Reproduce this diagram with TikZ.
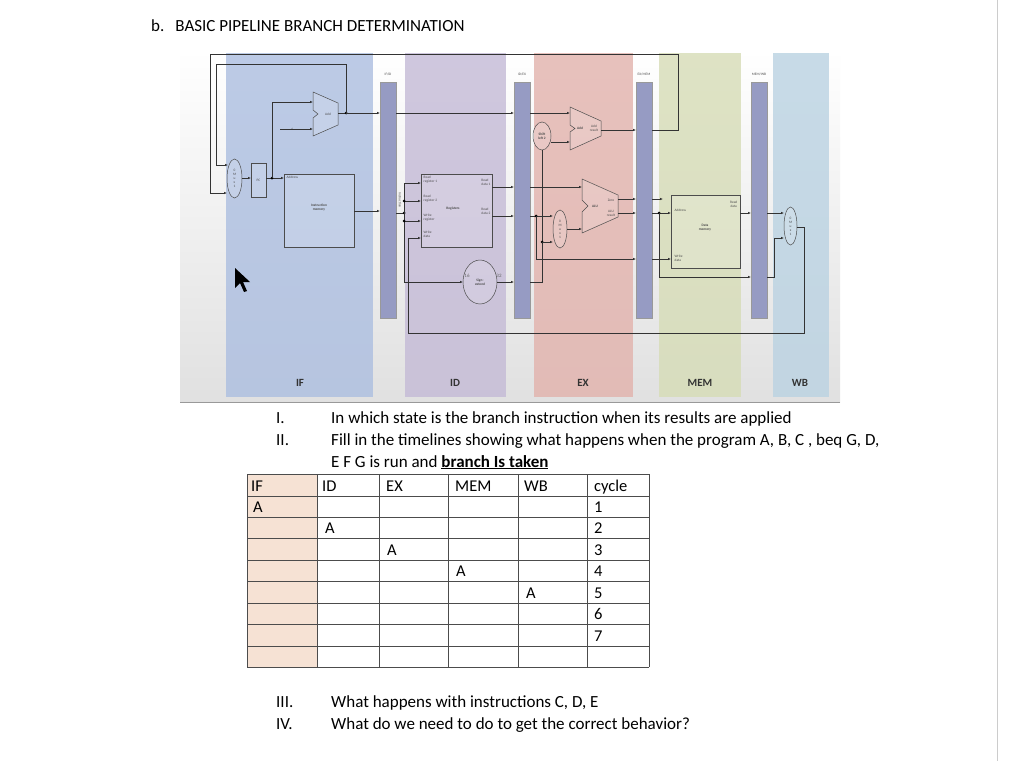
\documentclass[tikz,border=0pt]{standalone}
\usepackage{fontspec}
\setmainfont{Carlito}
\usetikzlibrary{arrows.meta,shapes.geometric}
\definecolor{bIF}{RGB}{172,190,224}
\definecolor{bID}{RGB}{196,186,214}
\definecolor{bEX}{RGB}{226,178,172}
\definecolor{bMEM}{RGB}{214,220,182}
\definecolor{bWB}{RGB}{186,210,226}
\definecolor{preg}{RGB}{150,155,195}
\definecolor{peach}{RGB}{246,226,212}
\begin{document}
\begin{tikzpicture}[x=1pt,y=-1pt,
  w/.style={draw=black!80,line width=0.6pt},
  a/.style={w,-{Latex[length=3pt,width=2.5pt]}},
  comp/.style={draw=black!70,fill=white,fill opacity=0.15,text opacity=1,line width=0.5pt},
  tiny/.style={font=\fontsize{3.5}{4}\selectfont,text=black!70,align=center,inner sep=0.5pt},
  lbl/.style={font=\fontsize{11}{12}\selectfont\bfseries,text=black!80},
  txt/.style={font=\fontsize{17}{19}\selectfont,anchor=base west,inner sep=0},
  cell/.style={font=\fontsize{16.5}{18}\selectfont,anchor=base west,inner sep=0},
  dot/.style={circle,fill=black,inner sep=0,minimum size=3pt}]
\useasboundingbox (0,0) rectangle (1024,761);
\fill[white] (0,0) rectangle (1024,761);
\draw[black!20,line width=1pt] (997,0) -- (997,761);
\node[txt,font=\fontsize{17}{19}\selectfont] (title) at (151,31) {b.\hspace{11pt}BASIC PIPELINE BRANCH DETERMINATION};
% image background
\shade[top color=white,bottom color=black!12] (180,50) rectangle (840,402);
\draw[black!40,line width=1pt] (180,402) -- (840,402);
% bands
\fill[bIF,opacity=0.8] (226,53) rectangle (373,397);
\fill[bID,opacity=0.8] (405,53) rectangle (506,397);
\fill[bEX,opacity=0.8] (534,53) rectangle (633,397);
\fill[bMEM,opacity=0.8] (659,53) rectangle (741,397);
\fill[bWB,opacity=0.8] (773,53) rectangle (829,397);
\node[lbl] (lIF) at (300,383) {IF};
\node[lbl] (lID) at (455,383) {ID};
\node[lbl] (lEX) at (583,383) {EX};
\node[lbl] (lMEM) at (700,383) {MEM};
\node[lbl] (lWB) at (800,383) {WB};
% pipeline registers
\foreach \x/\t in {380/{IF/ID},514/{ID/EX},636/{EX/MEM},751/{MEM/WB}}{
  \fill[preg,draw=black!40] (\x,82) rectangle ++(16,236);
  \node[tiny] at (\x+8,74) {\t};}
% components
\draw[comp] (313,92) -- (338,103) -- (338,125) -- (313,136) -- (313,118) -- (318,114) -- (313,110) -- cycle;
\node[tiny] (addif) at (328,114) {Add};
\node[tiny] (four) at (292,129) {4};
\node[comp,ellipse,minimum width=15pt,minimum height=39pt,inner sep=0] (mux1) at (234.5,178.5) {};
\node[tiny] at (234.5,178.5) {0\\M\\u\\x\\1};
\node[comp,rectangle,minimum width=15pt,minimum height=34pt,inner sep=0] (pc) at (258.5,180) {};
\node[tiny] at (258.5,180) {PC};
\draw[comp] (284,174) rectangle (354,247);
\node[tiny,anchor=north west] at (286,175) {Address};
\node[tiny] (imem) at (319,208) {\bfseries Instruction\\\bfseries memory};
\node[tiny,rotate=-90] at (400,200) {Instruction};
\draw[comp] (421,174) rectangle (492,247);
\node[tiny,anchor=north west,align=left] at (423,175) {Read\\register 1};
\node[tiny,anchor=north west,align=left] at (423,194) {Read\\register 2};
\node[tiny,anchor=north west,align=left] at (423,213) {Write\\register};
\node[tiny,anchor=north west,align=left] at (423,230) {Write\\data};
\node[tiny,anchor=north east,align=left] at (491,178) {Read\\data 1};
\node[tiny,anchor=north east,align=left] at (491,207) {Read\\data 2};
\node[tiny] at (453,209) {\bfseries Registers};
\node[comp,ellipse,minimum width=34pt,minimum height=44pt,inner sep=0] (sext) at (480,282) {};
\node[tiny] at (480,282) {\bfseries Sign-\\\bfseries extend};
\node[comp,ellipse,minimum width=18pt,minimum height=28pt,inner sep=0] (shl) at (542,136) {};
\node[tiny] at (542,136) {\bfseries Shift\\\bfseries left 2};
\draw[comp] (570,107) -- (601,121) -- (601,136) -- (570,150) -- (570,132) -- (575,128.5) -- (570,125) -- cycle;
\node[tiny] at (580,128) {\bfseries Add};
\node[tiny] at (594,128) {Add\\result};
\draw[comp] (582,179) -- (618,195) -- (618,217) -- (582,233) -- (582,212) -- (588,206) -- (582,200) -- cycle;
\node[tiny] at (595,206) {\bfseries ALU};
\node[tiny] at (611,200) {Zero};
\node[tiny] at (611,213) {ALU\\result};
\node[comp,ellipse,minimum width=14pt,minimum height=38pt,inner sep=0] (mux2) at (560,229) {};
\node[tiny] at (560,229) {0\\M\\u\\x\\1};
\draw[comp] (671,195) rectangle (740,268);
\node[tiny,anchor=north west] at (674,208) {Address};
\node[tiny,anchor=north east] at (738,200) {Read\\data};
\node[tiny] at (705,228) {\bfseries Data\\\bfseries memory};
\node[tiny,anchor=north west,align=left] at (674,254) {Write\\data};
\node[comp,ellipse,minimum width=13pt,minimum height=38pt,inner sep=0] (mux3) at (790.5,226) {};
\node[tiny] at (790.5,226) {0\\M\\u\\x\\1};
% wires
\draw[a] (652,130) -- (678,130) -- (678,54) -- (210,54) -- (210,193) -- (227,193);
\draw[w] (338,113) -- (346,113); \node[dot] at (346,113) {};
\draw[a] (346,113) -- (346,64) -- (216,64) -- (216,165) -- (228,165);
\draw[a] (346,113) -- (380,113);
\draw[a] (396,113) -- (514,113);
\draw[a] (530,113) -- (570,113);
\draw[a] (551,142) -- (570,142);
\draw[a] (601,130) -- (636,130);
\draw[a] (242,178) -- (251,178);
\draw[a] (266,178) -- (284,178); \node[dot] at (272,178) {};
\draw[a] (272,178) -- (272,102) -- (313,102);
\draw[a] (280,129) -- (313,129);
\draw[a] (354,211) -- (380,211);
\draw[w] (396,213) -- (404,213); \node[dot] at (404,213) {};
\draw[a] (404,183) -- (421,183); \draw[w] (404,183) -- (404,282);
\draw[a] (404,201) -- (421,201); \node[dot] at (404,201) {};
\draw[a] (404,221) -- (421,221); \node[dot] at (404,221) {};
\draw[a] (404,282) -- (463,282);
\draw[a] (497,282) -- (514,282);
\draw[a] (797,227) -- (804,227) -- (804,333) -- (408,333) -- (408,238) -- (421,238);
\draw[a] (492,187) -- (514,187);
\draw[a] (530,187) -- (582,187);
\draw[a] (492,216) -- (514,216);
\draw[a] (530,216) -- (553,216); \node[dot] at (536,216) {};
\draw[a] (536,216) -- (536,259) -- (636,259);
\draw[w] (530,282) -- (542,282) -- (542,150); \node[dot] at (542,242) {};
\draw[a] (542,242) -- (553,242);
\draw[a] (567,229) -- (582,229);
\draw[a] (618,199) -- (636,199);
\draw[a] (618,213) -- (636,213);
\draw[a] (652,199) -- (663,199);
\draw[a] (652,213) -- (671,213); \node[dot] at (659,213) {};
\draw[a] (659,213) -- (659,277) -- (751,277);
\draw[a] (652,259) -- (671,259);
\draw[a] (740,213) -- (751,213);
\draw[a] (767,213) -- (784,213);
\draw[a] (767,277) -- (774,277) -- (774,238) -- (784,238);
\node[font=\tiny,text=black!60] at (467,276) {16};
\node[font=\tiny,text=black!60] at (499,276) {32};
% cursor
\fill[black] (235,268) -- (235,288) -- (240,283) -- (244,292) -- (247,291) -- (243,282) -- (250,282) -- cycle;
% questions
\node[txt] (q1n) at (276,423) {I.};
\node[txt] (q1) at (331,423) {In which state is the branch instruction when its results are applied};
\node[txt] (q2n) at (276,445) {II.};
\node[txt] (q2) at (331,445) {Fill in the timelines showing what happens when the program A, B, C , beq G, D,};
\node[txt] (q2b) at (331,467) {E F G is run and \textbf{\underline{branch Is taken}}};
% table
\fill[peach] (247,474) rectangle (317,667);
\foreach \y in {474,496,517,538,560,581,603,624,646,667} \draw[black!70,line width=0.8pt] (247,\y) -- (649,\y);
\foreach \x in {247,317,379,448,518,587,649} \draw[black!70,line width=0.8pt] (\x,474) -- (\x,667);
\foreach \x/\t in {251/IF,322/ID,386/EX,455/MEM,524/WB,594/cycle} \node[cell] at (\x,491) {\t};
\node[cell] at (253,512) {A};
\node[cell] at (325,533) {A};
\node[cell] at (387,555) {A};
\node[cell] at (456,576) {A};
\node[cell] at (526,598) {A};
\foreach \y/\t in {512/1,533/2,555/3,576/4,598/5,619/6,641/7} \node[cell] at (594,\y) {\t};
\node[txt] (q3n) at (276,707) {III.};
\node[txt] (q3) at (331,707) {What happens with instructions C, D, E};
\node[txt] (q4n) at (276,729) {IV.};
\node[txt] (q4) at (331,729) {What do we need to do to get the correct behavior?};
\end{tikzpicture}
\end{document}
